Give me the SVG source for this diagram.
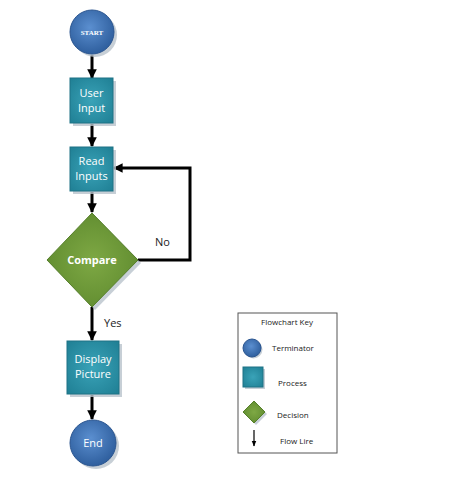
<svg xmlns="http://www.w3.org/2000/svg" width="474" height="486" viewBox="0 0 474 486">
<defs>
<radialGradient id="gBlue" cx="0.45" cy="0.4" r="0.6">
<stop offset="0" stop-color="#5b8fd0"/>
<stop offset="1" stop-color="#2f5f9e"/>
</radialGradient>
<radialGradient id="gTeal" cx="0.5" cy="0.5" r="0.7">
<stop offset="0" stop-color="#3aa3b8"/>
<stop offset="1" stop-color="#1f7f94"/>
</radialGradient>
<radialGradient id="gGreen" cx="0.5" cy="0.5" r="0.6">
<stop offset="0" stop-color="#7ea844"/>
<stop offset="1" stop-color="#5e8a2e"/>
</radialGradient>
<marker id="ah" viewBox="0 0 10 10" refX="9" refY="5" markerWidth="3.2" markerHeight="3.2" orient="auto">
<path d="M0,0 L10,5 L0,10 z" fill="#000"/>
</marker>
<marker id="ahs" viewBox="0 0 10 10" refX="9" refY="5" markerWidth="5" markerHeight="5" orient="auto">
<path d="M0,1 L10,5 L0,9 z" fill="#000"/>
</marker>
</defs>
<style>
.shadow{fill:#b9c3cc;opacity:0.8}
.term{fill:url(#gBlue);stroke:#2a5590;stroke-width:1}
.proc{fill:url(#gTeal);stroke:#1e7385;stroke-width:1}
.dec{fill:url(#gGreen);stroke:#557f2a;stroke-width:1}
.w{fill:#ffffff;font-family:"Open Sans","Liberation Sans",sans-serif;font-size:11px;text-anchor:middle}
.lbl{fill:#222;font-family:"Open Sans","Liberation Sans",sans-serif;font-size:11px}
.key{fill:#222;font-family:"Open Sans","Liberation Sans",sans-serif;font-size:8px}
.flow{stroke:#000;stroke-width:3;fill:none}
</style>
<rect width="474" height="486" fill="#ffffff"/>
<g id="connectors">
<line class="flow" x1="92" y1="55" x2="92" y2="78" marker-end="url(#ah)"/>
<line class="flow" x1="92" y1="124" x2="92" y2="146" marker-end="url(#ah)"/>
<line class="flow" x1="92" y1="192" x2="92" y2="212" marker-end="url(#ah)"/>
<polyline class="flow" points="138,260 190,260 190,168 114,168" marker-end="url(#ah)"/>
<line class="flow" x1="92" y1="307" x2="92" y2="340" marker-end="url(#ah)"/>
<line class="flow" x1="92" y1="395" x2="92" y2="419" marker-end="url(#ah)"/>
<text class="lbl" x="155" y="246">No</text>
<text class="lbl" x="104" y="327">Yes</text>
</g>
<g id="start">
<circle class="shadow" cx="95" cy="35" r="22"/>
<circle class="term" cx="92" cy="32" r="22"/>
<text x="92" y="35" fill="#fff" font-family="Liberation Serif,serif" font-size="7" font-weight="bold" text-anchor="middle">START</text>
</g>
<g id="user-input">
<rect class="shadow" x="73" y="81" width="43" height="45"/>
<rect class="proc" x="70" y="78" width="43" height="45"/>
<text class="w" x="91.5" y="97">User</text>
<text class="w" x="91.5" y="112">Input</text>
</g>
<g id="read-inputs">
<rect class="shadow" x="73" y="150" width="43" height="44"/>
<rect class="proc" x="70" y="147" width="43" height="44"/>
<text class="w" x="91.5" y="165">Read</text>
<text class="w" x="91.5" y="180">Inputs</text>
</g>
<g id="compare">
<polygon class="shadow" points="95,216 141,263 95,310 50,263"/>
<polygon class="dec" points="92,213 138,260 92,307 47,260"/>
<text class="w" x="92" y="264" font-size="9" font-weight="bold">Compare</text>
</g>
<g id="display-picture">
<rect class="shadow" x="70" y="344" width="52" height="53"/>
<rect class="proc" x="67" y="341" width="52" height="53"/>
<text class="w" x="93" y="363">Display</text>
<text class="w" x="93" y="378">Picture</text>
</g>
<g id="end">
<circle class="shadow" cx="96" cy="446" r="23"/>
<circle class="term" cx="93" cy="443" r="23"/>
<text class="w" x="93" y="447">End</text>
</g>
<g id="key">
<rect x="238" y="313" width="99" height="140" fill="#fff" stroke="#555" stroke-width="1"/>
<text class="key" x="287" y="325" text-anchor="middle">Flowchart Key</text>
<circle class="shadow" cx="253.5" cy="349.5" r="9"/>
<circle class="term" cx="252" cy="348" r="9"/>
<text class="key" x="272" y="351">Terminator</text>
<rect class="shadow" x="245" y="369" width="20" height="20"/>
<rect class="proc" x="243" y="367" width="20" height="20"/>
<text class="key" x="278" y="386">Process</text>
<polygon class="shadow" points="256,403 267,414 256,425 245,414"/>
<polygon class="dec" points="254,401 265,412 254,423 243,412"/>
<text class="key" x="277" y="418">Decision</text>
<line x1="254" y1="430" x2="254" y2="446" stroke="#000" stroke-width="1.2" marker-end="url(#ahs)"/>
<text class="key" x="280" y="444">Flow Lire</text>
</g>
</svg>
